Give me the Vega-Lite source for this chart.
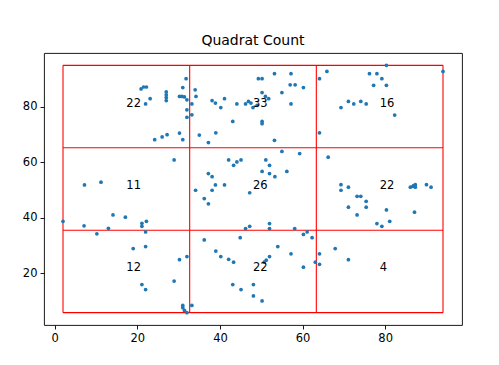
{
  "$schema": "https://vega.github.io/schema/vega-lite/v6.json",
  "width": 418,
  "height": 272,
  "autosize": {"type": "none"},
  "padding": {"left": 44, "top": 53, "right": 37, "bottom": 40},
  "background": "white",
  "title": {"text": "Quadrat Count", "font": "DejaVu Sans", "fontSize": 14, "fontWeight": "normal", "color": "black", "anchor": "middle", "offset": 5},
  "config": {"view": {"stroke": "black", "strokeWidth": 0.9}},
  "datasets": {
    "pts": [
      {"x":20.9,"y":86.4},{"x":21.5,"y":87.1},{"x":22.2,"y":87.1},{"x":23.1,"y":82.9},{"x":22.0,"y":81.0},{"x":27.0,"y":85.3},{"x":27.0,"y":84.3},{"x":27.0,"y":83.3},{"x":27.0,"y":82.2},{"x":30.2,"y":83.7},{"x":30.8,"y":83.7},{"x":31.4,"y":83.5},{"x":31.8,"y":90.1},{"x":31.0,"y":86.9},{"x":32.0,"y":82.5},{"x":32.0,"y":78.9},{"x":32.0,"y":76.2},{"x":24.2,"y":68.1},{"x":26.0,"y":69.1},{"x":27.2,"y":69.9},{"x":30.2,"y":70.5},{"x":31.0,"y":68.1},
      {"x":33.2,"y":81.0},{"x":33.2,"y":77.1},{"x":34.0,"y":86.1},{"x":34.2,"y":83.7},{"x":35.0,"y":69.8},{"x":38.1,"y":82.2},{"x":38.9,"y":81.3},{"x":41.1,"y":82.9},{"x":40.2,"y":79.7},{"x":44.1,"y":81.0},{"x":46.2,"y":81.0},{"x":46.9,"y":81.9},{"x":47.5,"y":81.3},{"x":48.0,"y":79.7},{"x":49.0,"y":80.5},{"x":49.3,"y":90.1},{"x":50.2,"y":90.1},{"x":50.2,"y":85.1},{"x":51.0,"y":83.7},{"x":51.8,"y":82.9},{"x":53.2,"y":91.9},{"x":55.0,"y":85.1},{"x":57.2,"y":91.9},{"x":57.0,"y":87.9},{"x":58.2,"y":87.9},{"x":60.2,"y":86.9},{"x":57.2,"y":81.0},{"x":43.1,"y":74.7},{"x":50.2,"y":74.7},{"x":50.2,"y":73.9},{"x":39.0,"y":70.6},{"x":37.2,"y":67.1},{"x":53.2,"y":67.9},
      {"x":64.1,"y":90.1},{"x":65.9,"y":92.7},{"x":76.2,"y":91.9},{"x":78.0,"y":91.9},{"x":80.3,"y":94.9},{"x":79.2,"y":90.1},{"x":77.2,"y":87.7},{"x":80.3,"y":87.7},{"x":94.0,"y":92.7},{"x":69.3,"y":79.7},{"x":71.1,"y":81.9},{"x":72.4,"y":81.0},{"x":74.1,"y":81.9},{"x":75.4,"y":81.0},{"x":82.3,"y":77.0},{"x":64.1,"y":70.6},
      {"x":28.9,"y":60.8},{"x":7.2,"y":51.8},{"x":11.2,"y":52.8},{"x":14.1,"y":41.0},{"x":17.1,"y":40.2},{"x":2.0,"y":38.7},{"x":7.1,"y":37.1},{"x":13.0,"y":36.2},{"x":21.1,"y":38.0},{"x":22.2,"y":38.7},{"x":21.1,"y":36.9},
      {"x":55.0,"y":63.9},{"x":59.3,"y":63.1},{"x":42.1,"y":60.8},{"x":43.3,"y":58.9},{"x":44.1,"y":60.1},{"x":45.1,"y":60.8},{"x":51.1,"y":60.8},{"x":52.0,"y":58.9},{"x":50.2,"y":56.7},{"x":52.0,"y":55.9},{"x":53.3,"y":54.8},{"x":56.2,"y":56.7},{"x":37.2,"y":55.9},{"x":38.1,"y":54.8},{"x":38.9,"y":51.8},{"x":38.1,"y":49.9},{"x":41.1,"y":51.8},{"x":34.1,"y":49.9},{"x":36.2,"y":46.9},{"x":37.2,"y":45.0},{"x":47.2,"y":49.0},{"x":46.2,"y":36.1},{"x":47.2,"y":36.9},{"x":52.0,"y":37.9},{"x":52.0,"y":36.1},{"x":58.1,"y":36.1},
      {"x":66.2,"y":61.8},{"x":69.3,"y":51.9},{"x":69.3,"y":49.9},{"x":71.1,"y":51.0},{"x":73.2,"y":47.7},{"x":74.1,"y":47.7},{"x":75.4,"y":45.9},{"x":75.4,"y":43.8},{"x":71.1,"y":43.8},{"x":73.2,"y":41.0},{"x":80.3,"y":42.8},{"x":81.1,"y":38.7},{"x":78.0,"y":37.9},{"x":79.2,"y":36.9},{"x":86.1,"y":51.0},{"x":86.7,"y":51.3},{"x":87.3,"y":51.9},{"x":87.3,"y":51.0},{"x":86.9,"y":51.6},{"x":90.0,"y":51.9},{"x":91.1,"y":51.0},{"x":87.1,"y":42.0},
      {"x":22.0,"y":34.9},{"x":10.2,"y":34.2},{"x":19.0,"y":28.9},{"x":22.0,"y":29.6},{"x":30.2,"y":24.9},{"x":32.0,"y":26.0},{"x":28.9,"y":17.2},{"x":21.1,"y":15.9},{"x":22.0,"y":14.1},{"x":31.0,"y":8.4},{"x":31.0,"y":7.6},{"x":31.4,"y":6.6},{"x":32.0,"y":5.8},
      {"x":60.2,"y":34.0},{"x":61.1,"y":34.9},{"x":62.3,"y":32.8},{"x":36.2,"y":32.0},{"x":44.9,"y":32.8},{"x":54.0,"y":29.6},{"x":57.2,"y":27.0},{"x":52.0,"y":26.0},{"x":51.2,"y":24.7},{"x":50.7,"y":24.0},{"x":39.0,"y":28.0},{"x":40.2,"y":26.0},{"x":42.1,"y":25.0},{"x":43.3,"y":24.0},{"x":60.2,"y":22.2},{"x":63.1,"y":24.0},{"x":43.1,"y":15.9},{"x":45.1,"y":14.1},{"x":48.1,"y":15.9},{"x":48.1,"y":11.8},{"x":50.2,"y":10.0},{"x":33.2,"y":8.4},
      {"x":64.1,"y":27.0},{"x":64.1,"y":23.2},{"x":67.9,"y":28.9},{"x":71.1,"y":24.9}
    ],
    "vlines": [
      {"x":2.0,"y1":5.8,"y2":94.9},{"x":32.67,"y1":5.8,"y2":94.9},{"x":63.33,"y1":5.8,"y2":94.9},{"x":94.0,"y1":5.8,"y2":94.9}
    ],
    "hlines": [
      {"y":5.8,"x1":2.0,"x2":94.0},{"y":35.5,"x1":2.0,"x2":94.0},{"y":65.2,"x1":2.0,"x2":94.0},{"y":94.9,"x1":2.0,"x2":94.0}
    ],
    "labels": [
      {"x":17.33,"y":80.05,"n":"22"},{"x":48.0,"y":80.05,"n":"33"},{"x":78.67,"y":80.05,"n":"16"},
      {"x":17.33,"y":50.35,"n":"11"},{"x":48.0,"y":50.35,"n":"26"},{"x":78.67,"y":50.35,"n":"22"},
      {"x":17.33,"y":20.65,"n":"12"},{"x":48.0,"y":20.65,"n":"22"},{"x":78.67,"y":20.65,"n":"4"}
    ]
  },
  "layer": [
    {
      "data": {"name": "vlines"},
      "mark": {"type": "rule", "color": "#ff0000", "strokeWidth": 1.1},
      "encoding": {
        "x": {"field": "x", "type": "quantitative", "scale": {"domain": [-2.6, 98.6], "nice": false, "zero": false},
              "axis": {"values": [0,20,40,60,80], "title": null, "grid": false, "domain": false, "labelFont": "DejaVu Sans", "labelFontSize": 11.5, "labelColor": "black", "tickColor": "black", "tickSize": 4, "tickWidth": 0.9, "labelPadding": 3}},
        "y": {"field": "y1", "type": "quantitative", "scale": {"domain": [1.35, 99.35], "nice": false, "zero": false},
              "axis": {"values": [20,40,60,80], "title": null, "grid": false, "domain": false, "labelFont": "DejaVu Sans", "labelFontSize": 11.5, "labelColor": "black", "tickColor": "black", "tickSize": 4, "tickWidth": 0.9, "labelPadding": 3}},
        "y2": {"field": "y2"}
      }
    },
    {
      "data": {"name": "hlines"},
      "mark": {"type": "rule", "color": "#ff0000", "strokeWidth": 1.1},
      "encoding": {
        "y": {"field": "y", "type": "quantitative"},
        "x": {"field": "x1", "type": "quantitative"},
        "x2": {"field": "x2"}
      }
    },
    {
      "data": {"name": "pts"},
      "mark": {"type": "circle", "color": "#1f77b4", "opacity": 1, "size": 14},
      "encoding": {
        "x": {"field": "x", "type": "quantitative"},
        "y": {"field": "y", "type": "quantitative"}
      }
    },
    {
      "data": {"name": "labels"},
      "mark": {"type": "text", "align": "left", "baseline": "alphabetic", "font": "DejaVu Sans", "fontSize": 11.5, "color": "black"},
      "encoding": {
        "x": {"field": "x", "type": "quantitative"},
        "y": {"field": "y", "type": "quantitative"},
        "text": {"field": "n"}
      }
    }
  ]
}
